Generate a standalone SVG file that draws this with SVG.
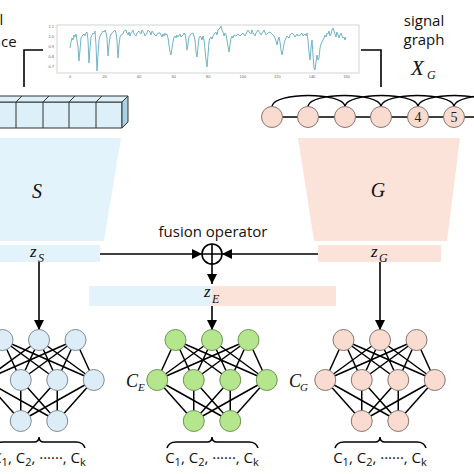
<svg xmlns="http://www.w3.org/2000/svg" width="474" height="474" viewBox="0 0 474 474">
<defs>
<style>
.lbl{font-family:"Open Sans","Liberation Sans",sans-serif;font-size:15px;fill:#111}
.math{font-family:"Liberation Serif","DejaVu Serif",serif;font-style:italic;fill:#111}
.tick{font-family:"Liberation Sans",sans-serif;font-size:4px;fill:#666}
.wire{stroke:#000;stroke-width:1.6;fill:none}
.edge{stroke:#000;stroke-width:1.5;fill:none}
.nb{fill:#dcedf8;stroke:#7f8c95;stroke-width:1}
.ng{fill:#b5e58d;stroke:#6c9653;stroke-width:1}
.np{fill:#f9dbcf;stroke:#857672;stroke-width:1}
.blue{fill:#e3f3fb}
.pink{fill:#fce3da}
</style>
<marker id="ahb" viewBox="0 0 10 10" refX="10" refY="5" markerWidth="10" markerHeight="10" orient="auto" markerUnits="userSpaceOnUse">
<path d="M0,0 L10,5 L0,10 z" fill="#000"/>
</marker>
</defs>
<rect width="474" height="474" fill="#fff"/>

<!-- input labels -->
<g id="seq-label">
<text class="lbl" x="-17" y="25" text-anchor="middle">signal</text>
<text class="lbl" x="-17" y="47" text-anchor="middle">sequence</text>
</g>
<g id="graph-label">
<text class="lbl" x="424" y="26" text-anchor="middle">signal</text>
<text class="lbl" x="424" y="45" text-anchor="middle">graph</text>
<text class="math" x="411" y="75" font-size="21">X</text>
<text class="math" x="427" y="79" font-size="12">G</text>
</g>

<!-- signal chart -->
<g id="chart">
<rect x="57" y="25" width="302" height="48" fill="#fff" stroke="#c9c9c9" stroke-width="0.8"/>
<polyline fill="none" stroke="#72b3c7" stroke-width="1" points="70,48 71,42 72,38 73,40 74,35 75,37 76,34 77,40 78,47 79,61 80,50 81,38 82,36 84,34 85,36 86,33 87,32 88,40 89,63 90,48 91,37 92,35 93,33 94,34 95,31 96,45 97,71 98,55 99,40 100,36 101,34 102,33 103,31 104,32 105,30 106,33 107,38 108,56 109,45 110,37 111,34 112,33 114,31 115,30 116,33 117,40 118,58 119,45 120,37 121,35 123,34 124,31 126,30 127,33 128,35 129,32 130,36 131,33 133,30 134,34 136,36 137,33 139,31 141,34 142,30 144,33 145,36 147,33 148,30 150,32 151,35 152,31 154,34 156,36 158,33 160,33 162,37 163,34 164,36 165,33 166,35 167,34 168,38 169,45 170,52 171,55 172,48 173,42 174,37 175,36 176,38 177,35 178,37 180,34 181,37 183,35 184,33 185,34 186,40 187,50 188,44 189,37 190,35 191,34 193,33 194,36 195,40 196,52 197,57 198,47 199,38 200,36 201,37 202,40 203,36 204,40 205,50 206,60 207,67 208,55 209,42 210,38 211,37 212,39 213,36 215,33 216,32 217,35 218,30 220,28 221,26 222,30 223,32 224,36 225,33 226,35 227,40 228,46 229,52 230,45 231,38 232,36 233,38 234,35 236,36 238,34 240,36 241,35 243,33 245,36 246,34 248,30 249,32 251,34 252,30 253,33 255,36 256,33 258,30 260,33 261,35 263,32 264,30 266,35 268,33 270,32 272,34 274,36 275,38 276,41 277,45 278,40 279,37 280,42 281,50 282,55 283,50 284,44 285,40 287,36 289,38 290,35 292,33 294,35 295,37 297,34 298,36 300,35 302,33 303,36 305,34 306,36 307,33 308,40 309,52 310,60 311,48 312,40 313,55 314,68 315,70 316,62 317,55 318,60 319,58 320,48 321,44 322,42 323,40 324,38 325,35 326,37 327,33 328,34 329,31 330,36 331,34 332,30 333,28 334,31 335,34 336,37 337,32 338,35 339,38 340,35 341,33 342,36 343,38 344,37 345,40 346,37"/>
<g class="tick" text-anchor="middle">
<text x="70" y="78">0</text><text x="104.6" y="78">20</text><text x="139.1" y="78">40</text><text x="173.7" y="78">60</text><text x="208.3" y="78">80</text><text x="242.9" y="78">100</text><text x="277.4" y="78">120</text><text x="312" y="78">140</text><text x="346.6" y="78">160</text>
</g>
<g class="tick" text-anchor="end">
<text x="54" y="27.5">1.1</text><text x="54" y="37.5">1.0</text><text x="54" y="47.5">0.9</text><text x="54" y="57.5">0.8</text><text x="54" y="67.5">0.7</text>
</g>
</g>

<!-- sequence cubes -->
<g id="sequence" stroke="#333" stroke-width="1">
<polygon points="-12,102 122,102 122,128 -12,128" fill="#ddeff8"/>
<polygon points="-6,96 128,96 122,102 -12,102" fill="#ddeff8"/>
<polygon points="122,102 128,96 128,122 122,128" fill="#a8d2e3"/>
<path d="M16,102 V128 M43,102 V128 M69,102 V128 M96,102 V128 M16,102 L22,96 M43,102 L49,96 M69,102 L75,96 M96,102 L102,96" fill="none"/>
</g>

<!-- signal graph -->
<g id="signal-graph">
<path class="edge" d="M272,117 H474" stroke-width="1.4"/>
<path class="edge" stroke-width="1.4" d="M272,106 C275,92 342,92 345,106 M308,106 C311,92 378,92 381,106 M345,106 C348,92 415,92 418,106 M381,106 C384,92 451,92 454,106 M418,106 C421,92 488,92 491,106 M454,106 C457,92 524,92 527,106"/>
<circle class="np" cx="272" cy="117" r="10.5"/>
<circle class="np" cx="308" cy="117" r="10.5"/>
<circle class="np" cx="345" cy="117" r="10.5"/>
<circle class="np" cx="381" cy="117" r="10.5"/>
<circle class="np" cx="418" cy="117" r="10.5"/>
<circle class="np" cx="454" cy="117" r="10.5"/>
<text x="418" y="122" text-anchor="middle" font-family="Liberation Serif,serif" font-size="14" fill="#222">4</text>
<text x="454" y="122" text-anchor="middle" font-family="Liberation Serif,serif" font-size="14" fill="#222">5</text>
</g>

<!-- encoders -->
<g id="encoder-S">
<polygon class="blue" points="-2,138 121,138 104,241 -2,241"/>
<text class="math" x="37" y="198" font-size="20" text-anchor="middle">S</text>
</g>
<g id="encoder-G">
<polygon class="pink" points="298,138 460,138 447,241 314,241"/>
<text class="math" x="378" y="197" font-size="20" text-anchor="middle">G</text>
</g>

<!-- embeddings -->
<g id="zS">
<rect class="blue" x="-2" y="245" width="102" height="17"/>
<text class="math" x="30" y="257" font-size="17">z</text>
<text class="math" x="38" y="262" font-size="12">S</text>
</g>
<g id="zG">
<rect class="pink" x="318" y="245" width="123" height="17"/>
<text class="math" x="371" y="257" font-size="17">z</text>
<text class="math" x="379" y="262" font-size="12">G</text>
</g>
<g id="zE">
<rect class="blue" x="89" y="286" width="123" height="20"/>
<rect class="pink" x="212" y="286" width="124" height="20"/>
<text class="math" x="204" y="297" font-size="17">z</text>
<text class="math" x="212" y="303" font-size="12">E</text>
</g>

<!-- fusion operator -->
<g id="fusion">
<text class="lbl" x="213" y="237" text-anchor="middle">fusion operator</text>
<circle cx="212" cy="254" r="10" fill="#fff" stroke="#000" stroke-width="1.6"/>
<path d="M202,254 H222 M212,244 V264" stroke="#000" stroke-width="1.6"/>
</g>

<!-- connectors -->
<g id="connectors">
<path class="wire" d="M24,87 V50 H43"/>
<path class="wire" d="M361,50 H381 V87"/>
<path class="wire" d="M100,254 H202" marker-end="url(#ahb)"/>
<path class="wire" d="M318,254 H222" marker-end="url(#ahb)"/>
<path class="wire" d="M212,264 V284" marker-end="url(#ahb)"/>
<path class="wire" d="M39,262 V330" marker-end="url(#ahb)"/>
<path class="wire" d="M212,306 V330" marker-end="url(#ahb)"/>
<path class="wire" d="M380,262 V330" marker-end="url(#ahb)"/>
</g>

<!-- classifier S -->
<g id="classifier-S">
<path class="edge" d="M2.5,340 L-15.75,380 M2.5,340 L20.75,380 M2.5,340 L57.25,380 M2.5,340 L93.75,380 M39,340 L-15.75,380 M39,340 L20.75,380 M39,340 L57.25,380 M39,340 L93.75,380 M75.5,340 L-15.75,380 M75.5,340 L20.75,380 M75.5,340 L57.25,380 M75.5,340 L93.75,380 M-15.75,380 L20.75,421 M-15.75,380 L57.25,421 M20.75,380 L20.75,421 M20.75,380 L57.25,421 M57.25,380 L20.75,421 M57.25,380 L57.25,421 M93.75,380 L20.75,421 M93.75,380 L57.25,421"/>
<circle class="nb" cx="2.5" cy="340" r="10.5"/><circle class="nb" cx="39" cy="340" r="10.5"/><circle class="nb" cx="75.5" cy="340" r="10.5"/>
<circle class="nb" cx="-15.75" cy="380" r="10.5"/><circle class="nb" cx="20.75" cy="380" r="10.5"/><circle class="nb" cx="57.25" cy="380" r="10.5"/><circle class="nb" cx="93.75" cy="380" r="10.5"/>
<circle class="nb" cx="20.75" cy="421" r="10.5"/><circle class="nb" cx="57.25" cy="421" r="10.5"/>
<path class="edge" d="M-6,448 Q-4,442 3,442 L34,442 Q39,442 39,437 Q39,442 44,442 L76,442 Q83,442 85,448" stroke-width="1.2"/>
<text class="lbl" x="39" y="463" text-anchor="middle" font-size="16">C<tspan font-size="11" dy="3">1</tspan><tspan dy="-3">, C</tspan><tspan font-size="11" dy="3">2</tspan><tspan dy="-3">, ······, C</tspan><tspan font-size="11" dy="3">k</tspan></text>
</g>

<!-- classifier E -->
<g id="classifier-E">
<path class="edge" d="M175.5,340 L157.25,380 M175.5,340 L193.75,380 M175.5,340 L230.25,380 M175.5,340 L266.75,380 M212,340 L157.25,380 M212,340 L193.75,380 M212,340 L230.25,380 M212,340 L266.75,380 M248.5,340 L157.25,380 M248.5,340 L193.75,380 M248.5,340 L230.25,380 M248.5,340 L266.75,380 M157.25,380 L193.75,421 M157.25,380 L230.25,421 M193.75,380 L193.75,421 M193.75,380 L230.25,421 M230.25,380 L193.75,421 M230.25,380 L230.25,421 M266.75,380 L193.75,421 M266.75,380 L230.25,421"/>
<circle class="ng" cx="175.5" cy="340" r="10.5"/><circle class="ng" cx="212" cy="340" r="10.5"/><circle class="ng" cx="248.5" cy="340" r="10.5"/>
<circle class="ng" cx="157.25" cy="380" r="10.5"/><circle class="ng" cx="193.75" cy="380" r="10.5"/><circle class="ng" cx="230.25" cy="380" r="10.5"/><circle class="ng" cx="266.75" cy="380" r="10.5"/>
<circle class="ng" cx="193.75" cy="421" r="10.5"/><circle class="ng" cx="230.25" cy="421" r="10.5"/>
<text class="math" x="126" y="387" font-size="18">C</text>
<text class="math" x="138" y="391" font-size="11">E</text>
<path class="edge" d="M167,448 Q169,442 176,442 L207,442 Q212,442 212,437 Q212,442 217,442 L249,442 Q256,442 258,448" stroke-width="1.2"/>
<text class="lbl" x="212" y="463" text-anchor="middle" font-size="16">C<tspan font-size="11" dy="3">1</tspan><tspan dy="-3">, C</tspan><tspan font-size="11" dy="3">2</tspan><tspan dy="-3">, ······, C</tspan><tspan font-size="11" dy="3">k</tspan></text>
</g>

<!-- classifier G -->
<g id="classifier-G">
<path class="edge" d="M343.5,340 L325.25,380 M343.5,340 L361.75,380 M343.5,340 L398.25,380 M343.5,340 L434.75,380 M380,340 L325.25,380 M380,340 L361.75,380 M380,340 L398.25,380 M380,340 L434.75,380 M416.5,340 L325.25,380 M416.5,340 L361.75,380 M416.5,340 L398.25,380 M416.5,340 L434.75,380 M325.25,380 L361.75,421 M325.25,380 L398.25,421 M361.75,380 L361.75,421 M361.75,380 L398.25,421 M398.25,380 L361.75,421 M398.25,380 L398.25,421 M434.75,380 L361.75,421 M434.75,380 L398.25,421"/>
<circle class="np" cx="343.5" cy="340" r="10.5"/><circle class="np" cx="380" cy="340" r="10.5"/><circle class="np" cx="416.5" cy="340" r="10.5"/>
<circle class="np" cx="325.25" cy="380" r="10.5"/><circle class="np" cx="361.75" cy="380" r="10.5"/><circle class="np" cx="398.25" cy="380" r="10.5"/><circle class="np" cx="434.75" cy="380" r="10.5"/>
<circle class="np" cx="361.75" cy="421" r="10.5"/><circle class="np" cx="398.25" cy="421" r="10.5"/>
<text class="math" x="289" y="387" font-size="18">C</text>
<text class="math" x="300" y="391" font-size="11">G</text>
<path class="edge" d="M335,448 Q337,442 344,442 L375,442 Q380,442 380,437 Q380,442 385,442 L417,442 Q424,442 426,448" stroke-width="1.2"/>
<text class="lbl" x="380" y="463" text-anchor="middle" font-size="16">C<tspan font-size="11" dy="3">1</tspan><tspan dy="-3">, C</tspan><tspan font-size="11" dy="3">2</tspan><tspan dy="-3">, ······, C</tspan><tspan font-size="11" dy="3">k</tspan></text>
</g>
</svg>
